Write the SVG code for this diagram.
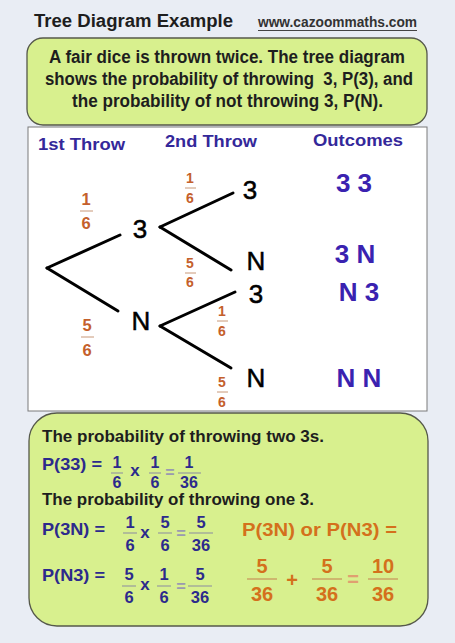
<svg xmlns="http://www.w3.org/2000/svg" width="455" height="643" viewBox="0 0 455 643">
<style>
text { font-family: "Liberation Sans", Arial, sans-serif; }
.b { font-weight: bold; }
.dark { fill: #1e1e1e; }
.hdr { fill: #34289a; font-weight: bold; font-size: 17px; }
.node { fill: #000; font-size: 26px; text-anchor: middle; stroke: #000; stroke-width: 0.5; }
.out { fill: #3a22b0; font-weight: bold; font-size: 26px; text-anchor: middle; }
.tf { fill: #c4602c; font-weight: bold; text-anchor: middle; }
.tfl { stroke: #c89878; stroke-width: 1; }
.branch { stroke: #000; stroke-width: 3; stroke-linecap: round; fill: none; }
.bf { fill: #2c2a8c; font-weight: bold; text-anchor: middle; }
.bfl { stroke: #8a8aa0; stroke-width: 1; }
.eq { fill: #9a9ab0; font-weight: bold; text-anchor: middle; }
.of { fill: #d4701c; font-weight: bold; text-anchor: middle; font-size: 20px; }
.ofl { stroke: #c8905a; stroke-width: 1.2; }
.box { fill: #d8f08e; stroke: #55584a; stroke-width: 1.3; }
</style>
<rect x="0" y="0" width="455" height="643" fill="#e9edf4"/>

<g id="title">
  <text x="34" y="27" class="b dark" font-size="17.5" textLength="199" lengthAdjust="spacingAndGlyphs">Tree Diagram Example</text>
</g>
<g id="url">
  <text x="258" y="27" class="b" fill="#333" font-size="14" textLength="159" lengthAdjust="spacingAndGlyphs">www.cazoommaths.com</text>
  <line x1="258" y1="30.5" x2="417" y2="30.5" stroke="#444" stroke-width="1"/>
</g>

<g id="intro">
  <rect x="27" y="38" width="400" height="87" rx="16" class="box"/>
  <text x="49" y="63" class="b dark" font-size="17.5" textLength="356" lengthAdjust="spacingAndGlyphs">A fair dice is thrown twice. The tree diagram</text>
  <text x="45" y="85" class="b dark" font-size="17.5" textLength="368" lengthAdjust="spacingAndGlyphs">shows the probability of throwing&#160; 3, P(3), and</text>
  <text x="72" y="107" class="b dark" font-size="17.5" textLength="311" lengthAdjust="spacingAndGlyphs">the probability of not throwing 3, P(N).</text>
</g>

<g id="tree-panel">
  <rect x="28" y="127" width="399" height="284" fill="#ffffff" stroke="#7a7a7a" stroke-width="1"/>
</g>

<g id="headers">
  <text x="38" y="150" class="hdr" textLength="87" lengthAdjust="spacingAndGlyphs">1st Throw</text>
  <text x="165" y="147" class="hdr" textLength="92" lengthAdjust="spacingAndGlyphs">2nd Throw</text>
  <text x="313" y="146" class="hdr" textLength="90" lengthAdjust="spacingAndGlyphs">Outcomes</text>
</g>

<g id="connectors">
  <line class="branch" x1="47" y1="268" x2="120" y2="235"/>
  <line class="branch" x1="47" y1="268" x2="118" y2="311"/>
  <line class="branch" x1="160" y1="227" x2="233" y2="193"/>
  <line class="branch" x1="160" y1="227" x2="231" y2="270"/>
  <line class="branch" x1="160" y1="326" x2="235" y2="292"/>
  <line class="branch" x1="160" y1="326" x2="231" y2="368"/>
  <g font-size="16.5">
    <text x="86" y="205" class="tf">1</text>
    <line x1="80" y1="211" x2="93" y2="211" class="tfl"/>
    <text x="86" y="229" class="tf">6</text>
    <text x="87" y="331" class="tf">5</text>
    <line x1="81" y1="337" x2="94" y2="337" class="tfl"/>
    <text x="87" y="356" class="tf">6</text>
  </g>
  <g font-size="14">
    <text x="190" y="183" class="tf">1</text>
    <line x1="185" y1="188" x2="196" y2="188" class="tfl"/>
    <text x="190" y="203" class="tf">6</text>
    <text x="190" y="268" class="tf">5</text>
    <line x1="185" y1="273" x2="196" y2="273" class="tfl"/>
    <text x="190" y="287" class="tf">6</text>
    <text x="222" y="316" class="tf">1</text>
    <line x1="217" y1="321" x2="228" y2="321" class="tfl"/>
    <text x="222" y="336" class="tf">6</text>
    <text x="222" y="387" class="tf">5</text>
    <line x1="217" y1="392" x2="228" y2="392" class="tfl"/>
    <text x="222" y="407" class="tf">6</text>
  </g>
</g>

<g id="node-3"><text x="140" y="238" class="node">3</text></g>
<g id="node-N"><text x="141" y="330" class="node">N</text></g>
<g id="leaf-3-3"><text x="250" y="199" class="node">3</text></g>
<g id="leaf-3-N"><text x="256" y="270" class="node">N</text></g>
<g id="leaf-N-3"><text x="256" y="303" class="node">3</text></g>
<g id="leaf-N-N"><text x="256" y="387" class="node">N</text></g>

<g id="outcomes">
  <text x="354" y="192" class="out">3 3</text>
  <text x="355" y="263" class="out">3 N</text>
  <text x="359" y="301" class="out">N 3</text>
  <text x="359" y="387" class="out">N N</text>
</g>

<g id="calculation">
  <rect x="29" y="413" width="399" height="213" rx="28" class="box"/>
  <text x="42" y="442" class="b dark" font-size="16" textLength="282" lengthAdjust="spacingAndGlyphs">The probability of throwing two 3s.</text>
  <text x="42" y="470" class="b" fill="#2c2a8c" font-size="17" textLength="60" lengthAdjust="spacingAndGlyphs">P(33) =</text>
  <g font-size="16">
    <text x="117" y="468" class="bf">1</text>
    <line x1="111" y1="473" x2="123" y2="473" class="bfl"/>
    <text x="117" y="488" class="bf">6</text>
    <text x="135" y="476" class="bf" font-size="17">x</text>
    <text x="155" y="468" class="bf">1</text>
    <line x1="149" y1="473" x2="161" y2="473" class="bfl"/>
    <text x="155" y="488" class="bf">6</text>
    <text x="170" y="478" class="eq">=</text>
    <text x="189" y="468" class="bf">1</text>
    <line x1="178" y1="473" x2="201" y2="473" class="bfl"/>
    <text x="189" y="488" class="bf">36</text>
  </g>

  <text x="42" y="505" class="b dark" font-size="16" textLength="272" lengthAdjust="spacingAndGlyphs">The probability of throwing one 3.</text>

  <text x="42" y="535" class="b" fill="#2c2a8c" font-size="17" textLength="63" lengthAdjust="spacingAndGlyphs">P(3N) =</text>
  <g font-size="16.5">
    <text x="130" y="528" class="bf">1</text>
    <line x1="123" y1="533" x2="137" y2="533" class="bfl"/>
    <text x="130" y="551" class="bf">6</text>
    <text x="145" y="538" class="bf" font-size="17">x</text>
    <text x="165" y="528" class="bf">5</text>
    <line x1="158" y1="533" x2="172" y2="533" class="bfl"/>
    <text x="165" y="551" class="bf">6</text>
    <text x="181" y="539" class="eq">=</text>
    <text x="201" y="528" class="bf">5</text>
    <line x1="189" y1="533" x2="213" y2="533" class="bfl"/>
    <text x="201" y="551" class="bf">36</text>
  </g>

  <text x="42" y="581" class="b" fill="#2c2a8c" font-size="17" textLength="63" lengthAdjust="spacingAndGlyphs">P(N3) =</text>
  <g font-size="16.5">
    <text x="129" y="580" class="bf">5</text>
    <line x1="122" y1="586" x2="136" y2="586" class="bfl"/>
    <text x="129" y="603" class="bf">6</text>
    <text x="145" y="590" class="bf" font-size="17">x</text>
    <text x="164" y="580" class="bf">1</text>
    <line x1="157" y1="586" x2="171" y2="586" class="bfl"/>
    <text x="164" y="603" class="bf">6</text>
    <text x="181" y="592" class="eq">=</text>
    <text x="200" y="580" class="bf">5</text>
    <line x1="188" y1="586" x2="212" y2="586" class="bfl"/>
    <text x="200" y="603" class="bf">36</text>
  </g>

  <text x="242" y="536" class="b" fill="#d4701c" font-size="19" textLength="155" lengthAdjust="spacingAndGlyphs">P(3N) or P(N3) =</text>
  <text x="262" y="573" class="of">5</text>
  <line x1="247" y1="579" x2="277" y2="579" class="ofl"/>
  <text x="262" y="601" class="of">36</text>
  <text x="292" y="587" class="of">+</text>
  <text x="327" y="573" class="of">5</text>
  <line x1="312" y1="579" x2="342" y2="579" class="ofl"/>
  <text x="327" y="601" class="of">36</text>
  <text x="353" y="586" class="of" style="fill:#e0a070">=</text>
  <text x="383" y="573" class="of">10</text>
  <line x1="368" y1="579" x2="398" y2="579" class="ofl"/>
  <text x="383" y="601" class="of">36</text>
</g>
</svg>
